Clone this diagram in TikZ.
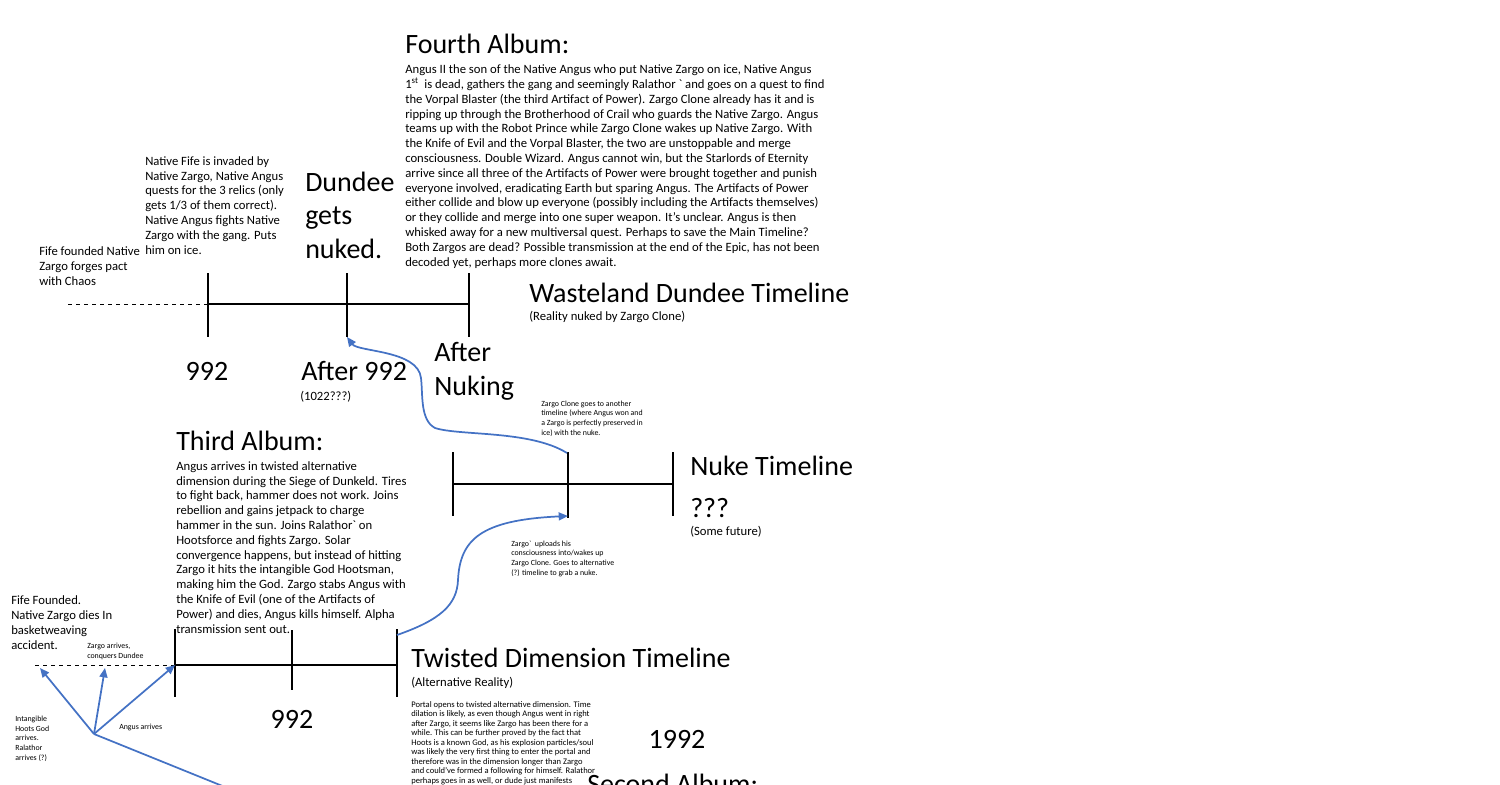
\documentclass[tikz,border=0pt]{standalone}
\usepackage{fontspec}
\setmainfont{Carlito}
\usetikzlibrary{arrows.meta}
\definecolor{linkblue}{RGB}{68,114,196}
\tikzset{
  bigtext/.style={inner sep=0pt, font=\fontsize{21}{25}\selectfont, align=left},
  bodytext/.style={inner sep=0pt, font=\fontsize{9.5}{11.1}\selectfont, align=left},
  tinytext/.style={inner sep=0pt, font=\fontsize{5.9}{7.2}\selectfont, align=left},
  portaltext/.style={inner sep=0pt, font=\fontsize{6.4}{7.1}\selectfont, align=left},
  axis/.style={line width=2.2pt},
  before/.style={dashed, line width=0.7pt},
  link/.style={linkblue, line width=1.3pt, -{Triangle[length=7pt,width=6pt]}},
}

\begin{document}
\begin{tikzpicture}[x=0.75pt, y=-0.75pt]
  \useasboundingbox (0,0) rectangle (1500,785);
  \clip (0,0) rectangle (1500,785);

  % wasteland dundee timeline
  \coordinate (w0) at (68,304);
  \coordinate (w1) at (208,304);
  \coordinate (w2) at (347,304);
  \coordinate (w3) at (469,304);
  \draw [before] (w0) -- (w1);
  \draw [axis] (w1) -- (w3);
  \foreach \n in {w1,w2,w3} \draw [axis] (\n) ++(0,-31) -- ++(0,64);
  \coordinate (w2foot) at (347,337);

  % (multi-line nodes sit on the baseline of their last line)
  \node [bigtext, anchor=base west] (fourthtitle) at (405,53) {Fourth Album:};
  \node [bodytext, anchor=base west] (fourthbody) at (405,266) {Angus II the son of the Native Angus who put Native Zargo on ice, Native Angus\\
    1\textsuperscript{st}\ \ is dead, gathers the gang and seemingly Ralathor \textasciigrave\ and goes on a quest to find\\
    the Vorpal Blaster (the third Artifact of Power). Zargo Clone already has it and is\\
    ripping up through the Brotherhood of Crail who guards the Native Zargo. Angus\\
    teams up with the Robot Prince while Zargo Clone wakes up Native Zargo. With\\
    the Knife of Evil and the Vorpal Blaster, the two are unstoppable and merge\\
    consciousness. Double Wizard. Angus cannot win, but the Starlords of Eternity\\
    arrive since all three of the Artifacts of Power were brought together and punish\\
    everyone involved, eradicating Earth but sparing Angus. The Artifacts of Power\\
    either collide and blow up everyone (possibly including the Artifacts themselves)\\
    or they collide and merge into one super weapon. It’s unclear. Angus is then\\
    whisked away for a new multiversal quest. Perhaps to save the Main Timeline?\\
    Both Zargos are dead? Possible transmission at the end of the Epic, has not been\\
    decoded yet, perhaps more clones await.};

  \node [bodytext, anchor=base west] (nativefife) at (145,254) {Native Fife is invaded by\\
    Native Zargo, Native Angus\\
    quests for the 3 relics (only\\
    gets 1/3 of them correct).\\
    Native Angus fights Native\\
    Zargo with the gang. Puts\\
    him on ice.};
  \node [bigtext, anchor=base west] (nuked) at (305,258) {Dundee\\gets\\nuked.};
  \node [bodytext, anchor=base west] (pact) at (39,285) {Fife founded Native\\Zargo forges pact\\with Chaos};

  \node [bigtext, anchor=base] (wyear) at (207,380) {992};
  \node [bigtext, anchor=base west] (wafter) at (301,380) {After 992};
  \node [bodytext, anchor=base west] (wguess) at (300,400) {(1022???)};
  \node [bigtext, anchor=base west] (wnuking) at (434,395) {After\\Nuking};
  \node [bigtext, anchor=base west] (wname) at (529,302) {Wasteland Dundee Timeline};
  \node [bodytext, anchor=base west] (wnote) at (529,320) {(Reality nuked by Zargo Clone)};

  % nuke timeline
  \coordinate (n1) at (453,484);
  \coordinate (n2) at (568,484);
  \coordinate (n3) at (673,484);
  \draw [axis] (n1) -- (n3);
  \foreach \n in {n1,n3} \draw [axis] (\n) ++(0,-32) -- ++(0,64);
  \draw [axis] (n2) ++(0,-32) -- ++(0,66);
  \coordinate (n2top) at (567,453);
  \coordinate (n2foot) at (568,516);

  \node [tinytext, anchor=base west] (clonenote) at (541,435) {Zargo Clone goes to another\\
    timeline (where Angus won and\\
    a Zargo is perfectly preserved in\\
    ice) with the nuke.};
  \node [bigtext, anchor=base west] (nname) at (690,475) {Nuke Timeline};
  \node [bigtext, anchor=base west] (nquery) at (690,517) {???};
  \node [bodytext, anchor=base west] (nnote) at (690,535) {(Some future)};
  \node [tinytext, anchor=base west] (uploadnote) at (511,575) {Zargo\textasciigrave\ \ uploads his\\
    consciousness into/wakes up\\
    Zargo Clone. Goes to alternative\\
    (?) timeline to grab a nuke.};

  % twisted dimension timeline
  \coordinate (t0) at (35,665);
  \coordinate (t1) at (175,665);
  \coordinate (t2) at (292,665);
  \coordinate (t3) at (397,665);
  \draw [before] (t0) -- (t1);
  \draw [axis] (t1) -- (t3);
  \foreach \n in {t1,t3} \draw [axis] (\n) ++(0,-36) -- ++(0,68);
  \draw [axis] (t2) ++(0,-35) -- ++(0,60);
  \coordinate (t3top) at (397,635);

  \node [bigtext, anchor=base west] (thirdtitle) at (176,450) {Third Album:};
  \node [bodytext, anchor=base west] (thirdbody) at (176,633) {Angus arrives in twisted alternative\\
    dimension during the Siege of Dunkeld. Tires\\
    to fight back, hammer does not work. Joins\\
    rebellion and gains jetpack to charge\\
    hammer in the sun. Joins Ralathor\textasciigrave\ on\\
    Hootsforce and fights Zargo. Solar\\
    convergence happens, but instead of hitting\\
    Zargo it hits the intangible God Hootsman,\\
    making him the God. Zargo stabs Angus with\\
    the Knife of Evil (one of the Artifacts of\\
    Power) and dies, Angus kills himself. Alpha\\
    transmission sent out.};
  \node [bodytext, anchor=base west] (founded) at (11,649) {Fife Founded.\\Native Zargo dies In\\basketweaving\\accident.};
  \node [tinytext, anchor=base west] (conquers) at (87,658) {Zargo arrives,\\conquers Dundee};
  \node [bigtext, anchor=base west] (tname) at (411,667) {Twisted Dimension Timeline};
  \node [bodytext, anchor=base west] (tnote) at (411,686) {(Alternative Reality)};
  \node [bigtext, anchor=base] (tyear) at (292,728) {992};
  \node [tinytext, anchor=base west] (hoots) at (15,760) {Intangible\\Hoots God\\arrives.\\Ralathor\\arrives (?)};
  \node [tinytext, anchor=base west] (angusarr) at (119,729) {Angus arrives};
  \node [portaltext, anchor=base west] (portal) at (411,783) {Portal opens to twisted alternative dimension. Time\\
    dilation is likely, as even though Angus went in right\\
    after Zargo, it seems like Zargo has been there for a\\
    while. This can be further proved by the fact that\\
    Hoots is a known God, as his explosion particles/soul\\
    was likely the very first thing to enter the portal and\\
    therefore was in the dimension longer than Zargo\\
    and could’ve formed a following for himself. Ralathor\\
    perhaps goes in as well, or dude just manifests};
  \node [bigtext, anchor=base] (year1992) at (677,748) {1992};
  \node [bigtext, anchor=base west] (secondtitle) at (587,793) {Second Album:};

  % arrivals
  \coordinate (origin) at (94,734);
  \coordinate (hootsin) at (40,668);
  \coordinate (zargoin) at (105,668);
  \coordinate (away) at (262,802);
  \draw [link] (origin) -- (hootsin);
  \draw [link] (origin) -- (zargoin);
  \draw [link] (origin) -- (t1);
  \draw [linkblue, line width=1.3pt] (origin) -- (away);

  % jumps between timelines
  \draw [link] (n2top) .. controls (530,430) and (460,436) .. (435,428)
    .. controls (420,420) and (423,395) .. (421,378)
    .. controls (418,350) and (358,352) .. (w2foot);
  \draw [link] (t3top) .. controls (440,620) and (457,605) .. (458,580)
    .. controls (460,540) and (480,520) .. (n2foot);
\end{tikzpicture}
\end{document}
